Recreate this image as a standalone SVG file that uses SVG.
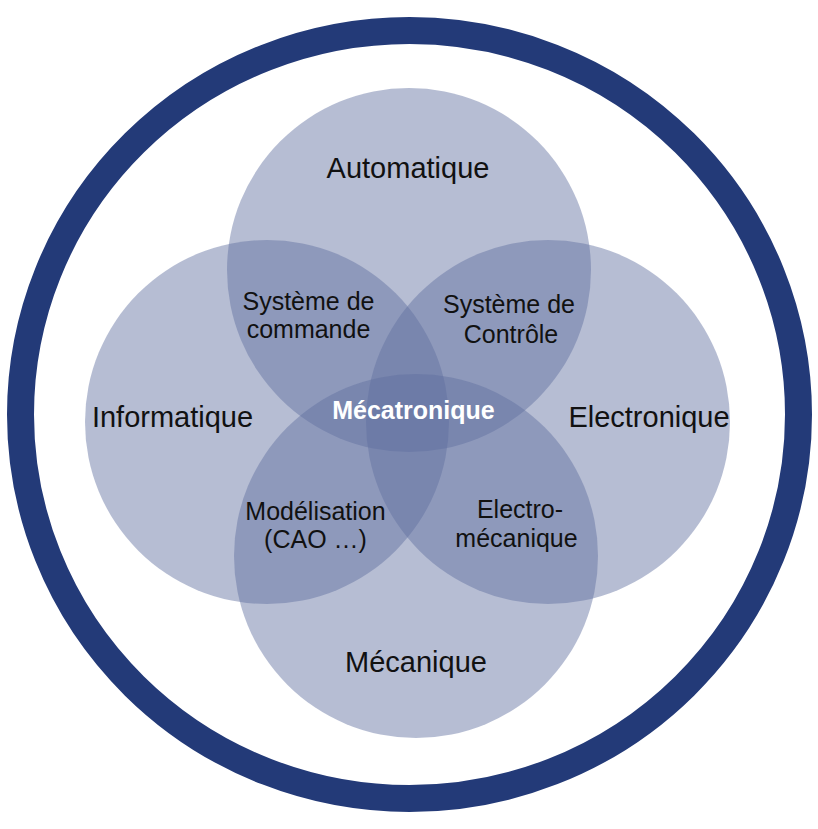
<svg xmlns="http://www.w3.org/2000/svg" width="818" height="829" viewBox="0 0 818 829">
  <style>
    .set { fill: #606f9f; fill-opacity: 0.46; }
    .big { font-family: "Liberation Sans", Arial, sans-serif; font-size: 29px; fill: #111; text-anchor: middle; }
    .small { font-family: "Liberation Sans", Arial, sans-serif; font-size: 25px; fill: #111; text-anchor: middle; }
    .core { font-family: "Liberation Sans", Arial, sans-serif; font-size: 25px; font-weight: bold; fill: #ffffff; text-anchor: middle; }
  </style>
  <rect width="818" height="829" fill="#ffffff"/>
  <g id="outer-ring">
    <ellipse cx="409.5" cy="414.5" rx="389" ry="384" fill="none" stroke="#233a78" stroke-width="27"/>
  </g>
  <g id="automatique">
    <circle class="set" cx="409" cy="270" r="182"/>
    <text class="big" x="408" y="178">Automatique</text>
  </g>
  <g id="informatique">
    <circle class="set" cx="267" cy="422" r="182"/>
    <text class="big" x="172.5" y="427">Informatique</text>
  </g>
  <g id="electronique">
    <circle class="set" cx="548" cy="422" r="182"/>
    <text class="big" x="649" y="427">Electronique</text>
  </g>
  <g id="mecanique">
    <circle class="set" cx="416" cy="556" r="182"/>
    <text class="big" x="416" y="672">Mécanique</text>
  </g>
  <g id="systeme-commande">
    <text class="small" x="308.5" y="310">Système de</text>
    <text class="small" x="308.5" y="338">commande</text>
  </g>
  <g id="systeme-controle">
    <text class="small" x="509" y="313">Système de</text>
    <text class="small" x="511" y="343">Contrôle</text>
  </g>
  <g id="modelisation">
    <text class="small" x="315.5" y="520">Modélisation</text>
    <text class="small" x="315.5" y="548">(CAO …)</text>
  </g>
  <g id="electromecanique">
    <text class="small" x="520" y="518">Electro-</text>
    <text class="small" x="516.5" y="547">mécanique</text>
  </g>
  <g id="mecatronique">
    <text class="core" x="413.5" y="419">Mécatronique</text>
  </g>
</svg>
